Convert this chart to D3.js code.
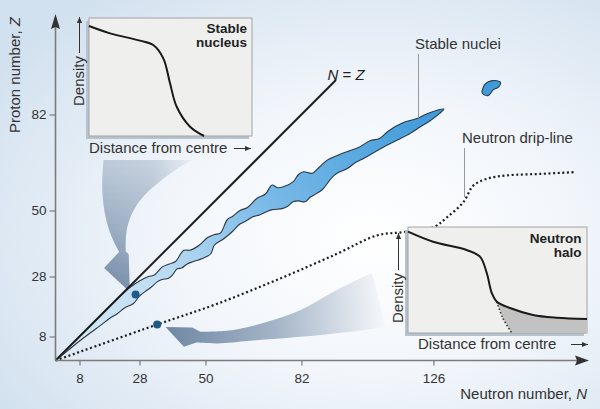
<!DOCTYPE html>
<html><head><meta charset="utf-8">
<script src="https://cdn.jsdelivr.net/npm/d3@7"></script>
<style>html,body{margin:0;padding:0;background:#fff}svg{display:block;font-family:"Liberation Sans",Arial,Helvetica,sans-serif}</style>
</head><body><svg id="c" width="600" height="409"></svg>
<script>
// ---------- data ----------
const xTicks = [8, 28, 50, 82, 126];
const yTicks = [8, 28, 50, 82];
const xLabel = "Neutron number, ";
const yLabel = "Proton number, ";

// valley of stability: upper edge (outward) and lower edge (back to origin), [N, Z]
const stableUpper = [[0,0],[10,10],[20,20],[25,24.5],[28,26.5],[31,28],[33,28.5],[35.6,31.2],[38,32.2],[40,33],[42.7,36.7],[45,36.8],[48,38.5],[50.7,41],[53,42],[55,42.5],[57.3,47],[59,48],[61.5,50],[64,51],[67.2,54.1],[70,55.5],[72.2,58.5],[74,57.6],[76,57.9],[79.3,59.6],[81,62],[82.7,62.9],[85.6,62.4],[88,64.5],[90.6,66.8],[94.3,68.5],[98.3,70],[101,71],[105,73.3],[108,74],[111,76.5],[116,79.3],[120,80.5],[125,82.7],[129.5,83.8]];
const stableLower = [[128,82.3],[125,80],[121,77.5],[118.3,75.7],[114,73.5],[110,71.5],[107.3,70],[103,67.5],[100,66],[97.3,64],[94.8,62.9],[93,61.8],[91.5,60.2],[89,57],[87.1,55.7],[85,54.5],[83.2,52.9],[81,53.2],[79.2,52.9],[77.5,51.5],[75.8,50.7],[72,50.2],[70.4,49.6],[68,48.5],[65.8,47.9],[63.5,46.5],[61.5,45.5],[59,43],[56,40.5],[53,38.5],[51.7,35.5],[49,34],[46,33],[43.9,32.2],[42,30.8],[40.6,30.6],[39,28.5],[37.7,27.4],[35.5,27],[33.9,26.2],[32,24.5],[30.6,23.5],[28,21.5],[26,19],[23,17.5],[20.6,15.6],[18,14],[15,11.7],[12,9.5],[8,6.5],[4,3.2]];
const islandBlob = [[142.2,89.4],[143.3,92.2],[145.6,93.3],[148.3,92.8],[147.7,91.1],[146,90.3],[144.3,88.3],[142.7,88.7]];
const nEqualsZ = [[0,0],[93.5,93.5]];
const dripLine = [[0,0],[33.9,12],[53.9,18.9],[76,27.8],[93.9,35.6],[107.2,41.7],[116,42.8],[126,44.4],[130.6,47.8],[136,52.8],[139.3,58.3],[143.9,60.6],[150.6,61.7],[161.7,62.2],[173.3,62.8]];
const markedNuclei = [[26.7,22],[33.9,12]];

// annotation arrows in [N, Z]: curved edge A, head points, curved edge B
const arrowToStable = {
  edgeA: [[16,66.8],[15.6,56.8],[16.7,47.8],[18.7,41.3],[21.2,36.2]],
  head:  [[16.2,30.8],[24.8,22.8],[24.4,35.4]],
  edgeB: [[23.4,36.4],[23.6,42.5],[25,47.8],[28.3,53.5],[33.9,58.9],[40.6,63.9],[45.7,66.8]]
};
const arrowToDrip = {
  edgeA: [[105.6,29],[102.8,27.9],[92.7,22.9],[81.7,16.8],[70.6,12.9],[59.3,10.2],[48.3,9.6]],
  head:  [[45.6,11],[36.7,11.2],[42.8,4.6]],
  edgeB: [[47,6.0],[53.9,5.7],[65,6.6],[81.7,7.9],[98.3,9.6],[110,11.2]]
};

// density profiles: [distance (0-1 of box), density (0-1 of box)]
const stableProfile = [[0,0.932],[0.129,0.87],[0.313,0.808],[0.394,0.771],[0.456,0.658],[0.497,0.447],[0.538,0.248],[0.62,0.079],[0.706,0]];
const haloProfile = [[0,0.956],[0.14,0.861],[0.327,0.783],[0.402,0.72],[0.44,0.566],[0.468,0.377],[0.496,0.295],[0.57,0.236],[0.698,0.17],[0.83,0.144],[1,0.132]];
const haloCoreOnly = [[0.496,0.295],[0.53,0.14],[0.58,0]];

// ---------- drawing ----------
const svg = d3.select("#c");
const W = 600, H = 409;
const defs = svg.append("defs");

const bg = defs.append("radialGradient").attr("id","bg").attr("cx","62%").attr("cy","58%").attr("r","75%");
bg.append("stop").attr("offset","0").attr("stop-color","#ffffff");
bg.append("stop").attr("offset","0.45").attr("stop-color","#f2f6fb");
bg.append("stop").attr("offset","1").attr("stop-color","#d2e1ef");
svg.append("rect").attr("width",W).attr("height",H).attr("fill","url(#bg)");

const x = d3.scaleLinear().domain([0,177.2]).range([55.5,587]);
const y = d3.scaleLinear().domain([0,115]).range([360.5,15.5]);
const line = d3.line().x(d=>x(d[0])).y(d=>y(d[1]));

// gradients
const bandG = defs.append("linearGradient").attr("id","band").attr("gradientUnits","userSpaceOnUse")
  .attr("x1",x(0)).attr("y1",y(0)).attr("x2",x(129)).attr("y2",y(84));
bandG.append("stop").attr("offset","0").attr("stop-color","#dbecf8");
bandG.append("stop").attr("offset","0.3").attr("stop-color","#bcdbf2");
bandG.append("stop").attr("offset","0.58").attr("stop-color","#78b9e7");
bandG.append("stop").attr("offset","1").attr("stop-color","#3c99d8");

const a1 = defs.append("linearGradient").attr("id","a1").attr("gradientUnits","userSpaceOnUse")
  .attr("x1",0).attr("y1",y(67)).attr("x2",0).attr("y2",y(23));
a1.append("stop").attr("offset","0").attr("stop-color","#7088a4").attr("stop-opacity",0.35);
a1.append("stop").attr("offset","0.5").attr("stop-color","#7088a4").attr("stop-opacity",0.65);
a1.append("stop").attr("offset","1").attr("stop-color","#6a83a0").attr("stop-opacity",0.95);
const a1b = defs.append("linearGradient").attr("id","a1mask").attr("gradientUnits","userSpaceOnUse")
  .attr("x1",x(16)).attr("y1",0).attr("x2",x(46)).attr("y2",0);
a1b.append("stop").attr("offset","0").attr("stop-color","#fff").attr("stop-opacity",1);
a1b.append("stop").attr("offset","0.55").attr("stop-color","#fff").attr("stop-opacity",0.85);
a1b.append("stop").attr("offset","1").attr("stop-color","#fff").attr("stop-opacity",0.2);
defs.append("mask").attr("id","m1").append("rect").attr("width",W).attr("height",H).attr("fill","url(#a1mask)");

const a2 = defs.append("linearGradient").attr("id","a2").attr("gradientUnits","userSpaceOnUse")
  .attr("x1",x(36)).attr("y1",0).attr("x2",x(111)).attr("y2",0);
a2.append("stop").attr("offset","0").attr("stop-color","#6a83a0").attr("stop-opacity",0.97);
a2.append("stop").attr("offset","0.5").attr("stop-color","#7088a4").attr("stop-opacity",0.6);
a2.append("stop").attr("offset","1").attr("stop-color","#7088a4").attr("stop-opacity",0);

// annotation arrows
const edge = d3.line().x(d=>x(d[0])).y(d=>y(d[1])).curve(d3.curveCatmullRom.alpha(0.5));
function arrowPath(a){
  let p = edge(a.edgeA);
  a.head.forEach(h=>{ p += `L${x(h[0])},${y(h[1])}`; });
  p += edge(a.edgeB).replace(/^M/,"L");
  return p + "Z";
}
svg.append("path").attr("d",arrowPath(arrowToStable)).attr("fill","url(#a1)").attr("mask","url(#m1)");
svg.append("path").attr("d",arrowPath(arrowToDrip)).attr("fill","url(#a2)");

// stable band
const closed = d3.line().x(d=>x(d[0])).y(d=>y(d[1])).curve(d3.curveCatmullRomClosed.alpha(0.5));
svg.append("path").attr("d",closed(stableUpper.concat(stableLower)))
  .attr("fill","url(#band)").attr("stroke","#2b3946").attr("stroke-width",1.1).attr("stroke-linejoin","round");
svg.append("path").attr("d",closed(islandBlob))
  .attr("fill","#3f9bd7").attr("stroke","#2b3946").attr("stroke-width",1.1);

// N = Z
svg.append("path").attr("d",line(nEqualsZ)).attr("stroke","#1e1e1e").attr("stroke-width",2).attr("fill","none");

// drip line
svg.append("path").attr("d",d3.line().x(d=>x(d[0])).y(d=>y(d[1])).curve(d3.curveCatmullRom.alpha(0.5))(dripLine))
  .attr("fill","none").attr("stroke","#1e1e1e").attr("stroke-width",2.2).attr("stroke-dasharray","2 2.6");

// marked nuclei
svg.selectAll("circle.nuc").data(markedNuclei).join("circle").attr("class","nuc")
  .attr("cx",d=>x(d[0])).attr("cy",d=>y(d[1])).attr("r",4).attr("fill","#1d5a85");

// axes
const axisCol = "#7c7c7c";
const gx = svg.append("g").attr("transform",`translate(0,${y(0)})`)
  .call(d3.axisBottom(x).tickValues(xTicks).tickSize(5).tickPadding(8));
const gy = svg.append("g").attr("transform",`translate(${x(0)},0)`)
  .call(d3.axisLeft(y).tickValues(yTicks).tickSize(6).tickPadding(3));
[gx,gy].forEach(g=>{
  g.select(".domain").remove();
  g.selectAll(".tick line").attr("stroke",axisCol).attr("stroke-width",1.2);
  g.selectAll(".tick text").attr("fill","#333").attr("font-size","13.5px").attr("font-family","Liberation Sans, Arial, sans-serif");
});
svg.append("line").attr("x1",x(0)).attr("y1",y(0)).attr("x2",577).attr("y2",y(0)).attr("stroke",axisCol).attr("stroke-width",1.6);
svg.append("line").attr("x1",x(0)).attr("y1",y(0)).attr("x2",x(0)).attr("y2",27).attr("stroke",axisCol).attr("stroke-width",1.6);
svg.append("path").attr("d",`M589,${y(0)} L575,${y(0)-5} L577,${y(0)} L575,${y(0)+5} Z`).attr("fill","#333");
svg.append("path").attr("d",`M${x(0)},14 L${x(0)-4.5},29 L${x(0)},27 L${x(0)+4.5},29 Z`).attr("fill","#333");

svg.append("text").attr("x",587).attr("y",399).attr("text-anchor","end").attr("font-size","15px").attr("fill","#333")
  .call(t=>{t.append("tspan").text(xLabel); t.append("tspan").attr("font-style","italic").text("N");});
svg.append("text").attr("transform","translate(20,133) rotate(-90)").attr("font-size","15px").attr("fill","#333")
  .call(t=>{t.append("tspan").text(yLabel); t.append("tspan").attr("font-style","italic").text("Z");});

// N = Z label
svg.append("text").attr("x",327.5).attr("y",80).attr("font-size","15px").attr("fill","#222")
  .call(t=>{t.append("tspan").attr("font-style","italic").text("N");
            t.append("tspan").text(" = ");
            t.append("tspan").attr("font-style","italic").text("Z");});

// leader labels
svg.append("line").attr("x1",418.5).attr("y1",54).attr("x2",418.5).attr("y2",118).attr("stroke","#9a9a9a").attr("stroke-width",1);
svg.append("text").attr("x",415).attr("y",49).attr("font-size","15px").attr("fill","#333").text("Stable nuclei");
svg.append("line").attr("x1",464.5).attr("y1",148).attr("x2",464.5).attr("y2",197).attr("stroke","#9a9a9a").attr("stroke-width",1);
svg.append("text").attr("x",462).attr("y",143).attr("font-size","15px").attr("fill","#333").text("Neutron drip-line");

// insets
function arrow(g, x1, y1, x2, y2){
  g.append("line").attr("x1",x1).attr("y1",y1).attr("x2",x2).attr("y2",y2).attr("stroke","#333").attr("stroke-width",1);
  const ang = Math.atan2(y2-y1, x2-x1), L=6, Hw=2.6;
  const bx = x2 - L*Math.cos(ang), by = y2 - L*Math.sin(ang);
  const px = -Math.sin(ang)*Hw, py = Math.cos(ang)*Hw;
  g.append("path").attr("d",`M${x2},${y2} L${bx+px},${by+py} L${bx-px},${by-py} Z`).attr("fill","#333");
}
function inset(box, profile, title, opt){
  const g = svg.append("g");
  g.append("rect").attr("x",box.x0-3).attr("y",box.y0+3).attr("width",box.x1-box.x0).attr("height",box.y1-box.y0).attr("fill","#b7c2cf");
  g.append("rect").attr("x",box.x0).attr("y",box.y0).attr("width",box.x1-box.x0).attr("height",box.y1-box.y0)
    .attr("fill","#efefee").attr("stroke","#a3a3a3").attr("stroke-width",1);
  const r = d3.scaleLinear().domain([0,1]).range([box.x0,box.x1]);
  const d = d3.scaleLinear().domain([0,1]).range([box.y1,box.y0]);
  const pl = d3.line().x(p=>r(p[0])).y(p=>d(p[1])).curve(d3.curveCatmullRom.alpha(0.5));
  if (opt.core){
    const tail = profile.filter(p=>p[0]>=opt.core[0][0]);
    const poly = tail.concat([[1,0]], opt.core.slice().reverse());
    g.append("path").attr("d",d3.line().x(p=>r(p[0])).y(p=>d(p[1])).curve(d3.curveLinear)(poly)).attr("fill","#c2c2c2");
    g.append("path").attr("d",pl(opt.core)).attr("fill","none").attr("stroke","#333").attr("stroke-width",1.5).attr("stroke-dasharray","1.6 2");
  }
  g.append("path").attr("d",pl(profile)).attr("fill","none").attr("stroke","#1a1a1a").attr("stroke-width",2);
  const tt = g.append("text").attr("text-anchor","end").attr("font-size","13.5px").attr("font-weight","bold").attr("fill","#222");
  title.forEach((s,i)=>tt.append("tspan").attr("x",opt.titleX).attr("y",opt.titleY + i*14).text(s));
  g.append("text").attr("transform",`translate(${opt.densX},${opt.densY}) rotate(-90)`).attr("font-size","15px").attr("fill","#333").text("Density");
  arrow(g, opt.densX-4.5, opt.densY-53, opt.densX-4.5, opt.densTip);
  g.append("text").attr("x",opt.distX).attr("y",opt.distY).attr("font-size","15px").attr("fill","#333").text("Distance from centre");
  arrow(g, opt.arrX0, opt.distY-4.5, opt.arrX1, opt.distY-4.5);
}
inset({x0:89,y0:18,x1:252,y1:136}, stableProfile, ["Stable","nucleus"],
  {titleX:247,titleY:33,densX:84,densY:106,densTip:17,distX:89,distY:153,arrX0:234,arrX1:251});
inset({x0:408,y0:227,x1:587,y1:333}, haloProfile, ["Neutron","halo"],
  {core:haloCoreOnly,titleX:581.5,titleY:242.5,densX:403,densY:323,densTip:233,distX:418,distY:349,arrX0:571,arrX1:588});
</script></body></html>
